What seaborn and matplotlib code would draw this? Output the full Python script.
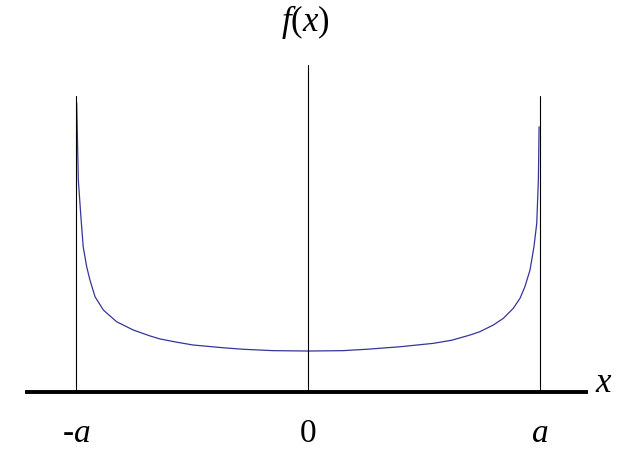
import seaborn as sns
import matplotlib.pyplot as plt
import pandas as pd

# curve (a = 1, f(0) ~ 1/pi)
x_vals = [-0.997, -0.993, -0.990, -0.980, -0.969, -0.954, -0.940, -0.918, -0.882,
          -0.825, -0.753, -0.681, -0.638, -0.568, -0.496, -0.366, -0.280, -0.151,
          0.0,
          0.152, 0.253, 0.397, 0.540, 0.620, 0.698, 0.741, 0.799, 0.842, 0.885,
          0.914, 0.935, 0.957, 0.974, 0.986, 0.993, 0.996]
f_vals = [2.30, 1.95, 1.687, 1.422, 1.156, 0.997, 0.891, 0.758, 0.652,
          0.559, 0.493, 0.446, 0.422, 0.397, 0.374, 0.352, 0.340, 0.329,
          0.326,
          0.329, 0.340, 0.360, 0.387, 0.412, 0.453, 0.480, 0.533, 0.586, 0.666,
          0.746, 0.838, 0.971, 1.156, 1.342, 1.687, 2.11]
tick_pos = [-1, 0, 1]
tick_labels = [r"-$a$", r"$0$", r"$a$"]

sns.set_style("white")
plt.rcParams["mathtext.fontset"] = "custom"
plt.rcParams["mathtext.rm"] = "Liberation Serif"
plt.rcParams["mathtext.it"] = "Liberation Serif:italic"
plt.rcParams["font.family"] = ["Liberation Serif", "DejaVu Serif"]

fig = plt.figure(figsize=(6.36, 4.49), dpi=100)
ax = fig.add_axes([0, 0, 1, 1])

df = pd.DataFrame({"x": x_vals, "f": f_vals})
sns.lineplot(data=df, x="x", y="f", ax=ax, color="#35359a", linewidth=0.9)

# axes drawn by hand like the original figure
ax.plot([-1.22, 1.207], [0, 0], color="black", linewidth=2.8, solid_capstyle="butt")
ax.plot([-1, -1], [0, 2.355], color="black", linewidth=0.8)
ax.plot([1, 1], [0, 2.355], color="black", linewidth=0.8)
ax.plot([0, 0], [0, 2.60], color="black", linewidth=0.8)

for p, lab in zip(tick_pos, tick_labels):
    ax.text(p, -0.33, lab, ha="center", va="center", fontsize=24, color="black")
ax.text(1.276, 0.07, r"$x$", ha="center", va="center", fontsize=25, color="black")
ax.text(-0.01, 2.943, r"$f(x)$", ha="center", va="center", fontsize=25, color="black")

ax.set_xlim(-1.3276, 1.4138)
ax.set_ylim(-0.4535, 3.1186)
ax.set_xlabel("")
ax.set_ylabel("")
ax.axis("off")

fig.savefig("out.png", dpi=100)
